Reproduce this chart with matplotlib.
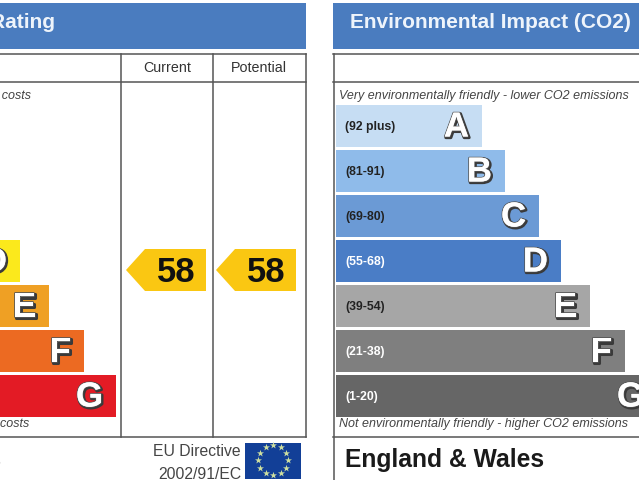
import numpy as np
import matplotlib
matplotlib.use("Agg")
import matplotlib.pyplot as plt
import matplotlib.patheffects as pe
from matplotlib.patches import Polygon, Rectangle

plt.rcParams['font.family'] = ['Liberation Sans', 'DejaVu Sans']

bands = ['A', 'B', 'C', 'D', 'E', 'F', 'G']
band_lengths = [146, 169, 203, 225, 254, 289, 321]
co2_ranges = ['(92 plus)', '(81-91)', '(69-80)', '(55-68)', '(39-54)', '(21-38)', '(1-20)']
energy_colors = ['#0f8a4a', '#3aa64a', '#9cc63c', '#fbe91c', '#efa024', '#ec6a22', '#e31b25']
co2_colors = ['#c6ddf3', '#8fbbea', '#6b9ad5', '#4a7dc6', '#a6a6a6', '#7f7f7f', '#666666']
range_colors = ['#222222', '#222222', '#222222', '#ffffff', '#222222', '#ffffff', '#ffffff']
current_rating = 58
potential_rating = 58

BLUE = '#4a7cbf'
LINE = '#555555'
ROW_TOP = 105
ROW_STEP = 45
ROW_H = 42

fig = plt.figure(figsize=(6.39, 4.80), dpi=100)
ax = fig.add_axes([0, 0, 1, 1])
ax.set_xlim(0, 639)
ax.set_ylim(480, 0)
ax.axis('off')


def draw_letter(x, y, letter):
    # white capital with a dark outline and a small drop shadow
    ax.text(x, y, letter, ha='right', va='center', fontsize=25, color='white', fontweight='bold',
            path_effects=[pe.withStroke(linewidth=2.2, foreground='#3a3a3a', offset=(0.8, -0.8)),
                          pe.withStroke(linewidth=1.2, foreground='#555555'),
                          pe.Normal()])


def draw_bars(x0, colors):
    y = [ROW_TOP + i * ROW_STEP + ROW_H / 2 for i in range(len(bands))]
    ax.barh(y, band_lengths, height=ROW_H, left=x0, color=colors, linewidth=0)
    for i, letter in enumerate(bands):
        draw_letter(x0 + band_lengths[i] - 13, y[i] + 1, letter)
    return y


def draw_arrow(x, value):
    pts = [(x, 270), (x + 19, 249), (x + 80, 249), (x + 80, 291), (x + 19, 291)]
    ax.add_patch(Polygon(pts, closed=True, facecolor='#fac712', edgecolor='none'))
    ax.text(x + 50.5, 272.5, str(value), ha='center', va='center', fontsize=25,
            fontweight='bold', color='#111111')


# header strips
ax.add_patch(Rectangle((-5, 3), 311, 46, facecolor=BLUE, edgecolor='none'))
ax.add_patch(Rectangle((333, 3), 311, 46, facecolor=BLUE, edgecolor='none'))
ax.text(55, 22, 'Energy Efficiency Rating', ha='right', va='center', fontsize=15,
        fontweight='bold', color='#eef4fb')
ax.text(350, 22, 'Environmental Impact (CO2)', ha='left', va='center', fontsize=15,
        fontweight='bold', color='#eef4fb')

# table rules
for y in (54, 82, 437):
    ax.plot([-5, 306], [y, y], color=LINE, lw=1.1)
    ax.plot([333, 644], [y, y], color=LINE, lw=1.1)
ax.plot([121, 121], [54, 437], color=LINE, lw=1.1)
ax.plot([212.5, 212.5], [54, 437], color=LINE, lw=1.1)
ax.plot([306, 306], [54, 437], color=LINE, lw=1.1)
ax.plot([333.5, 333.5], [54, 480], color=LINE, lw=1.1)

ax.text(167.5, 68.5, 'Current', ha='center', va='center', fontsize=10.3, color='#333333')
ax.text(258.5, 68.5, 'Potential', ha='center', va='center', fontsize=10.3, color='#333333')

# energy rating side, mostly running off the left edge
draw_bars(-205, energy_colors)
ax.text(31, 96, 'Very energy efficient - lower running costs', ha='right', va='center',
        fontsize=9, style='italic', color='#444444')
ax.text(29, 424, 'Not energy efficient - higher running costs', ha='right', va='center',
        fontsize=9, style='italic', color='#444444')
draw_arrow(126, current_rating)
draw_arrow(216, potential_rating)

# CO2 side
row_y = draw_bars(336, co2_colors)
for yc, label, col in zip(row_y, co2_ranges, range_colors):
    ax.text(345, yc + 1, label, ha='left', va='center', fontsize=8.8, fontweight='bold', color=col)
ax.text(339, 96, 'Very environmentally friendly - lower CO2 emissions', ha='left', va='center',
        fontsize=9, style='italic', color='#444444')
ax.text(339, 424, 'Not environmentally friendly - higher CO2 emissions', ha='left', va='center',
        fontsize=9, style='italic', color='#444444')

# footer
ax.text(345, 460.5, 'England & Wales', ha='left', va='center', fontsize=17.7,
        fontweight='bold', color='#1a1a1a')
ax.text(1, 460.5, 'England & Wales', ha='right', va='center', fontsize=17.7,
        fontweight='bold', color='#1a1a1a')
ax.text(241, 452, 'EU Directive', ha='right', va='center', fontsize=11.3, color='#444444')
ax.text(241, 474.5, '2002/91/EC', ha='right', va='center', fontsize=11.3, color='#444444')

# EU flag
ax.add_patch(Rectangle((245, 443), 56, 36, facecolor='#123f97', edgecolor='none'))
angles = np.deg2rad(np.arange(0, 360, 30))
ax.scatter(273 + 15 * np.cos(angles), 460 + 15 * np.sin(angles), marker='*', s=28,
           color='#cfe0a0', linewidths=0, zorder=3)

fig.savefig('out.png', dpi=100)
